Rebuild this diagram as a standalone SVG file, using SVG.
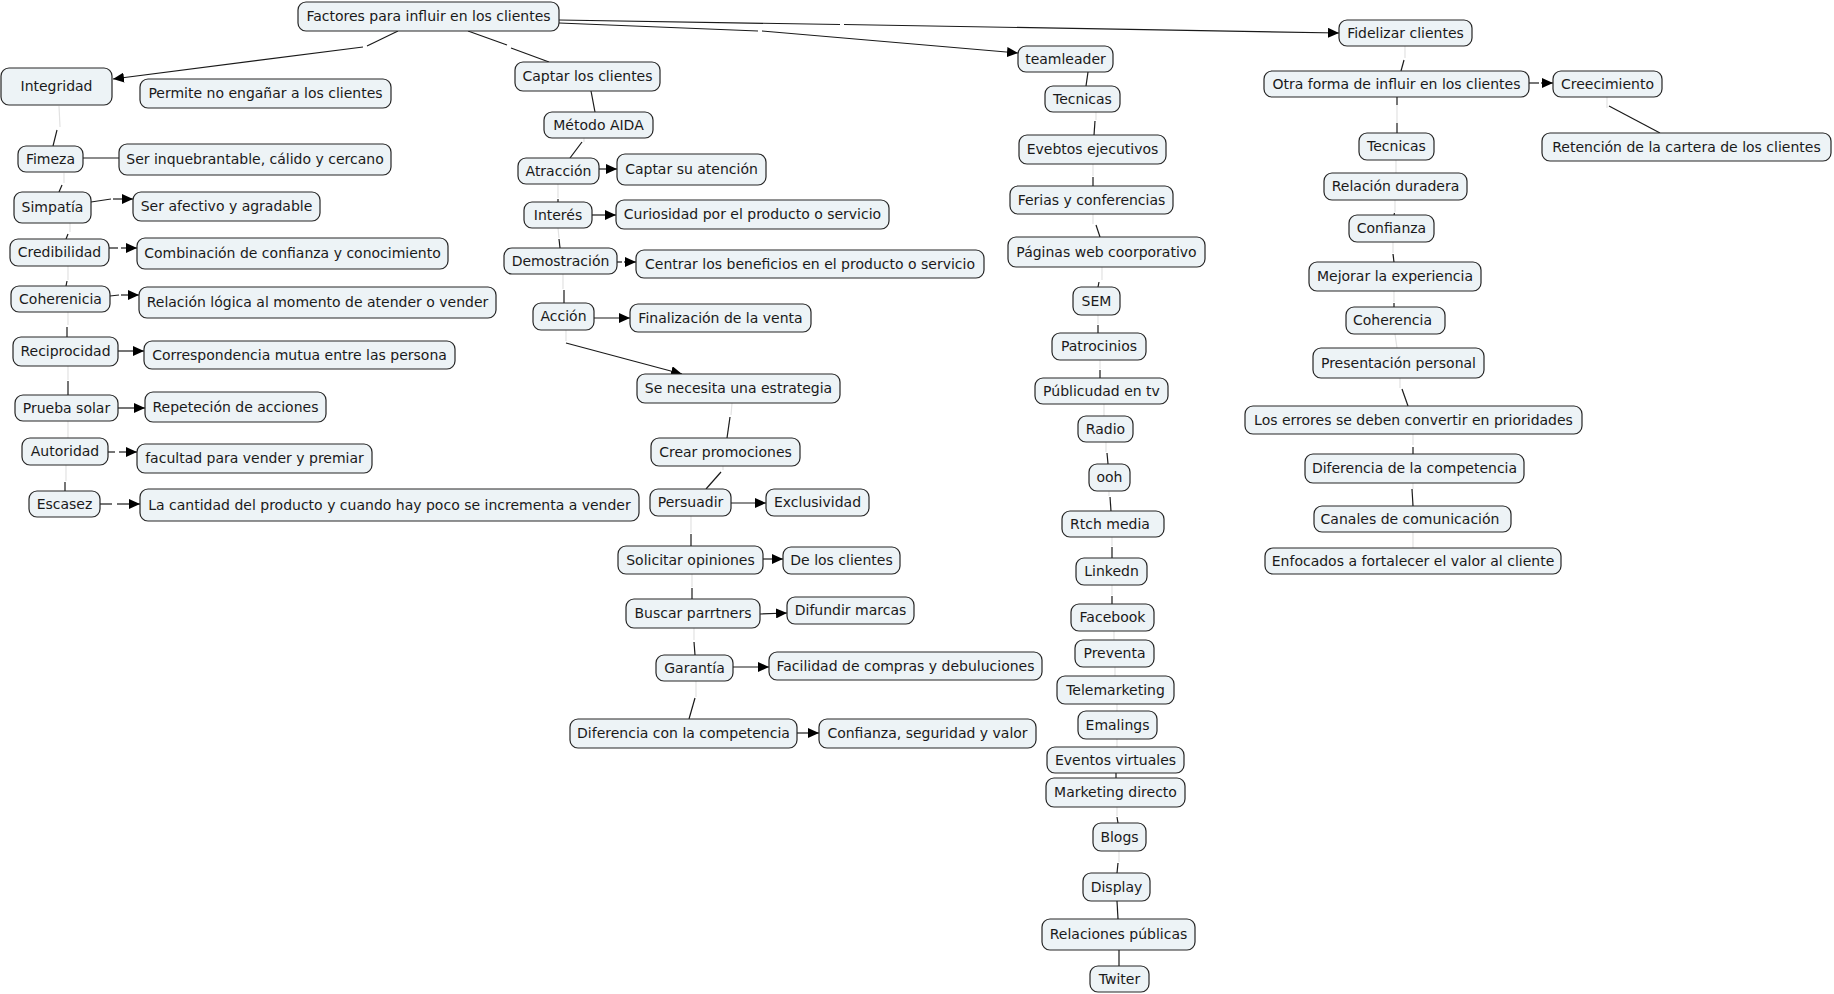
<svg xmlns="http://www.w3.org/2000/svg" width="1834" height="994" viewBox="0 0 1834 994">
<style>
.b{fill:#edf3f6;stroke:#262626;stroke-width:1.2}
text{font-family:"DejaVu Sans",Verdana,sans-serif;font-size:14px;fill:#1a1a1a;text-anchor:middle}
.d{stroke:#1a1a1a;stroke-width:1.2;fill:none}
.f{stroke:#e2e2e2;stroke-width:1.2;fill:none}
.a{marker-end:url(#ar)}
</style>
<defs>
<marker id="ar" markerUnits="userSpaceOnUse" markerWidth="12" markerHeight="10" refX="11" refY="5" orient="auto"><path d="M0,0 L11,5 L0,10 z" fill="#000"/></marker>
</defs>
<rect width="1834" height="994" fill="#fff"/>
<g id="connectors">
<path class="d" d="M398,31 L367,46"/><path class="d a" d="M363,47 L113,79"/>
<path class="f" d="M59,106 L60,127"/><path class="d" d="M57,130 L53,146"/>
<path class="d" d="M83,158 L119,158"/>
<path class="f" d="M64,173 L64,183"/><path class="d" d="M62,185 L59,192"/>
<path class="d" d="M91,202 L111,199"/><path class="d a" d="M113,199 L133,199"/>
<path class="f" d="M70,223 L70,232"/><path class="d" d="M68,234 L66,239"/>
<path class="d" d="M109,248 L118,248"/><path class="d a" d="M121,248 L137,248"/>
<path class="f" d="M68,266 L68,280"/><path class="d" d="M67,281 L66,286"/>
<path class="d" d="M110,296 L119,295"/><path class="d a" d="M121,295 L139,295"/>
<path class="f" d="M68,312 L68,325"/><path class="d" d="M67,327 L67,337"/>
<path class="d a" d="M118,351 L144,351"/>
<path class="f" d="M68,366 L68,380"/><path class="d" d="M68,381 L68,395"/>
<path class="d a" d="M118,408 L145,408"/>
<path class="f" d="M68,421 L68,438"/>
<path class="d" d="M108,452 L115,452"/><path class="d a" d="M119,452 L137,452"/>
<path class="f" d="M66,465 L66,481"/><path class="d" d="M65,482 L65,491"/>
<path class="d" d="M100,504 L112,504"/><path class="d a" d="M117,504 L140,504"/>
<path class="d" d="M468,31 L507,45"/><path class="d" d="M511,48 L549,62"/>
<path class="d" d="M591,91 L595,112"/>
<path class="f" d="M584,138 L584,142"/><path class="d" d="M582,142 L570,158"/>
<path class="d a" d="M599,169 L617,169"/>
<path class="f" d="M558,184 L558,198"/><path class="d" d="M558,199 L558,202"/>
<path class="d a" d="M592,215 L616,215"/>
<path class="f" d="M558,228 L559,238"/><path class="d" d="M559,239 L560,248"/>
<path class="d" d="M617,262 L622,262"/><path class="d a" d="M624,262 L636,262"/>
<path class="f" d="M563,274 L563,289"/><path class="d" d="M564,290 L564,303"/>
<path class="d a" d="M594,318 L630,318"/>
<path class="f" d="M566,330 L566,341"/><path class="d a" d="M566,343 L682,374"/>
<path class="f" d="M732,403 L731,415"/><path class="d" d="M730,417 L727,438"/>
<path class="f" d="M723,466 L723,470"/><path class="d" d="M721,472 L706,489"/>
<path class="d a" d="M731,503 L766,503"/>
<path class="f" d="M691,516 L691,533"/><path class="d" d="M691,534 L691,546"/>
<path class="d a" d="M763,559 L783,559"/>
<path class="f" d="M692,574 L692,587"/><path class="d" d="M692,588 L692,599"/>
<path class="d a" d="M760,614 L787,613"/>
<path class="f" d="M694,628 L694,640"/><path class="d" d="M694,642 L695,655"/>
<path class="d a" d="M733,667 L769,667"/>
<path class="f" d="M696,681 L696,697"/><path class="d" d="M695,698 L689,719"/>
<path class="d a" d="M797,733 L819,733"/>
<path class="d" d="M559,23 L758,31"/><path class="d a" d="M762,31 L1018,53"/>
<path class="d" d="M559,20 L840,24.5"/><path class="d a" d="M844,24.5 L1339,33"/>
<path class="d" d="M1088,72 L1086,86"/>
<path class="f" d="M1096,112 L1096,120"/><path class="d" d="M1095,121 L1094,135"/>
<path class="f" d="M1093,164 L1093,176"/><path class="d" d="M1093,177 L1093,186"/>
<path class="f" d="M1093,214 L1093,224"/><path class="d" d="M1096,225 L1100,237"/>
<path class="f" d="M1102,267 L1102,280"/><path class="d" d="M1099,282 L1098,287"/>
<path class="f" d="M1098,315 L1098,324"/><path class="d" d="M1098,325 L1098,333"/>
<path class="f" d="M1100,360 L1100,369"/><path class="d" d="M1100,370 L1100,378"/>
<path class="f" d="M1104,404 L1104,416"/>
<path class="f" d="M1106,442 L1106,452"/><path class="d" d="M1107,453 L1108,464"/>
<path class="f" d="M1109,491 L1109,496"/><path class="d" d="M1110,497 L1111,511"/>
<path class="f" d="M1112,537 L1112,546"/><path class="d" d="M1112,547 L1112,558"/>
<path class="f" d="M1112,585 L1112,595"/><path class="d" d="M1112,596 L1112,604"/>
<path class="f" d="M1114,631 L1114,640"/>
<path class="f" d="M1115,667 L1115,676"/>
<path class="f" d="M1117,704 L1117,711"/>
<path class="f" d="M1117,739 L1117,747"/>
<path class="d" d="M1116,773 L1116,778"/>
<path class="f" d="M1117,807 L1117,816"/><path class="d" d="M1117,817 L1118,823"/>
<path class="f" d="M1119,851 L1119,862"/><path class="d" d="M1118,863 L1117,873"/>
<path class="d" d="M1117,901 L1118,919"/>
<path class="d" d="M1119,950 L1119,966"/>
<path class="f" d="M1405,46 L1405,58"/><path class="d" d="M1404,60 L1401,71"/>
<path class="d" d="M1529,83 L1539,83"/><path class="d a" d="M1541,83 L1553,83"/>
<path class="d" d="M1397,97 L1397,105"/><path class="f" d="M1397,105 L1397,123"/><path class="d" d="M1397,123 L1397,133"/>
<path class="f" d="M1607,97 L1607,108"/><path class="d" d="M1609,106 L1660,133"/>
<path class="f" d="M1396,160 L1396,173"/>
<path class="f" d="M1395,200 L1395,212"/><path class="d" d="M1394.5,213 L1394,215"/>
<path class="f" d="M1393,242 L1393,253"/><path class="d" d="M1393,254 L1394,262"/>
<path class="f" d="M1394,291 L1394,302"/><path class="d" d="M1394,303 L1394,307"/>
<path class="f" d="M1395,334 L1397,348"/>
<path class="f" d="M1400,378 L1400,388"/><path class="d" d="M1402,389 L1408,406"/>
<path class="f" d="M1413,434 L1413,445"/><path class="d" d="M1413,447 L1413,454"/>
<path class="f" d="M1413,483 L1413,489"/><path class="d" d="M1412,489 L1413,506"/>
<path class="f" d="M1413,532 L1413,548"/>
</g>
<g id="n1"><rect class="b" x="298" y="2" width="261" height="29" rx="8"/><text x="428.5" y="21">Factores para influir en los clientes</text></g>
<g id="n2"><rect class="b" x="1" y="68" width="111" height="37" rx="8"/><text x="56.5" y="91">Integridad</text></g>
<g id="n3"><rect class="b" x="140" y="79" width="251" height="29" rx="8"/><text x="265.5" y="98">Permite no engañar a los clientes</text></g>
<g id="n4"><rect class="b" x="18" y="146" width="65" height="26" rx="8"/><text x="50.5" y="163.5">Fimeza</text></g>
<g id="n5"><rect class="b" x="119" y="144" width="272" height="31" rx="8"/><text x="255" y="164">Ser inquebrantable, cálido y cercano</text></g>
<g id="n6"><rect class="b" x="14" y="192" width="77" height="31" rx="8"/><text x="52.5" y="212">Simpatía</text></g>
<g id="n7"><rect class="b" x="133" y="192" width="187" height="29" rx="8"/><text x="226.5" y="211">Ser afectivo y agradable</text></g>
<g id="n8"><rect class="b" x="10" y="239" width="99" height="27" rx="8"/><text x="59.5" y="257">Credibilidad</text></g>
<g id="n9"><rect class="b" x="137" y="238" width="311" height="31" rx="8"/><text x="292.5" y="258">Combinación de confianza y conocimiento</text></g>
<g id="n10"><rect class="b" x="11" y="286" width="99" height="26" rx="8"/><text x="60.5" y="303.5">Coherenicia</text></g>
<g id="n11"><rect class="b" x="139" y="287" width="357" height="31" rx="8"/><text x="317.5" y="307">Relación lógica al momento de atender o vender</text></g>
<g id="n12"><rect class="b" x="13" y="337" width="105" height="29" rx="8"/><text x="65.5" y="356">Reciprocidad</text></g>
<g id="n13"><rect class="b" x="144" y="341" width="311" height="28" rx="8"/><text x="299.5" y="359.5">Correspondencia mutua entre las persona</text></g>
<g id="n14"><rect class="b" x="15" y="395" width="103" height="26" rx="8"/><text x="66.5" y="412.5">Prueba solar</text></g>
<g id="n15"><rect class="b" x="145" y="392" width="181" height="30" rx="8"/><text x="235.5" y="411.5">Repeteción de acciones</text></g>
<g id="n16"><rect class="b" x="22" y="438" width="86" height="27" rx="8"/><text x="65" y="456">Autoridad</text></g>
<g id="n17"><rect class="b" x="137" y="444" width="235" height="29" rx="8"/><text x="254.5" y="463">facultad para vender y premiar</text></g>
<g id="n18"><rect class="b" x="29" y="491" width="71" height="26" rx="8"/><text x="64.5" y="508.5">Escasez</text></g>
<g id="n19"><rect class="b" x="140" y="489" width="499" height="32" rx="8"/><text x="389.5" y="509.5">La cantidad del producto y cuando hay poco se incrementa a vender</text></g>
<g id="n20"><rect class="b" x="515" y="62" width="145" height="29" rx="8"/><text x="587.5" y="81">Captar los clientes</text></g>
<g id="n21"><rect class="b" x="544" y="112" width="109" height="26" rx="8"/><text x="598.5" y="129.5">Método AIDA</text></g>
<g id="n22"><rect class="b" x="518" y="158" width="81" height="26" rx="8"/><text x="558.5" y="175.5">Atracción</text></g>
<g id="n23"><rect class="b" x="617" y="154" width="149" height="31" rx="8"/><text x="691.5" y="174">Captar su atención</text></g>
<g id="n24"><rect class="b" x="524" y="202" width="68" height="26" rx="8"/><text x="558" y="219.5">Interés</text></g>
<g id="n25"><rect class="b" x="616" y="200" width="273" height="29" rx="8"/><text x="752.5" y="219">Curiosidad por el producto o servicio</text></g>
<g id="n26"><rect class="b" x="504" y="248" width="113" height="26" rx="8"/><text x="560.5" y="265.5">Demostración</text></g>
<g id="n27"><rect class="b" x="636" y="250" width="348" height="28" rx="8"/><text x="810" y="268.5">Centrar los beneficios en el producto o servicio</text></g>
<g id="n28"><rect class="b" x="533" y="303" width="61" height="27" rx="8"/><text x="563.5" y="321">Acción</text></g>
<g id="n29"><rect class="b" x="630" y="304" width="181" height="28" rx="8"/><text x="720.5" y="322.5">Finalización de la venta</text></g>
<g id="n30"><rect class="b" x="637" y="374" width="203" height="29" rx="8"/><text x="738.5" y="393">Se necesita una estrategia</text></g>
<g id="n31"><rect class="b" x="651" y="438" width="149" height="28" rx="8"/><text x="725.5" y="456.5">Crear promociones</text></g>
<g id="n32"><rect class="b" x="650" y="489" width="81" height="27" rx="8"/><text x="690.5" y="507">Persuadir</text></g>
<g id="n33"><rect class="b" x="766" y="489" width="103" height="27" rx="8"/><text x="817.5" y="507">Exclusividad</text></g>
<g id="n34"><rect class="b" x="618" y="546" width="145" height="28" rx="8"/><text x="690.5" y="564.5">Solicitar opiniones</text></g>
<g id="n35"><rect class="b" x="783" y="547" width="117" height="27" rx="8"/><text x="841.5" y="565">De los clientes</text></g>
<g id="n36"><rect class="b" x="626" y="599" width="134" height="29" rx="8"/><text x="693" y="618">Buscar parrtners</text></g>
<g id="n37"><rect class="b" x="787" y="597" width="127" height="27" rx="8"/><text x="850.5" y="615">Difundir marcas</text></g>
<g id="n38"><rect class="b" x="656" y="655" width="77" height="26" rx="8"/><text x="694.5" y="672.5">Garantía</text></g>
<g id="n39"><rect class="b" x="769" y="652" width="273" height="28" rx="8"/><text x="905.5" y="670.5">Facilidad de compras y debuluciones</text></g>
<g id="n40"><rect class="b" x="570" y="719" width="227" height="29" rx="8"/><text x="683.5" y="738">Diferencia con la competencia</text></g>
<g id="n41"><rect class="b" x="819" y="719" width="217" height="29" rx="8"/><text x="927.5" y="738">Confianza, seguridad y valor</text></g>
<g id="n42"><rect class="b" x="1018" y="46" width="95" height="26" rx="8"/><text x="1065.5" y="63.5">teamleader</text></g>
<g id="n43"><rect class="b" x="1045" y="86" width="75" height="26" rx="8"/><text x="1082.5" y="103.5">Tecnicas</text></g>
<g id="n44"><rect class="b" x="1019" y="135" width="147" height="29" rx="8"/><text x="1092.5" y="154">Evebtos ejecutivos</text></g>
<g id="n45"><rect class="b" x="1010" y="186" width="163" height="28" rx="8"/><text x="1091.5" y="204.5">Ferias y conferencias</text></g>
<g id="n46"><rect class="b" x="1008" y="237" width="197" height="30" rx="8"/><text x="1106.5" y="256.5">Páginas web coorporativo</text></g>
<g id="n47"><rect class="b" x="1073" y="287" width="47" height="28" rx="8"/><text x="1096.5" y="305.5">SEM</text></g>
<g id="n48"><rect class="b" x="1052" y="333" width="94" height="27" rx="8"/><text x="1099" y="351">Patrocinios</text></g>
<g id="n49"><rect class="b" x="1035" y="378" width="133" height="26" rx="8"/><text x="1101.5" y="395.5">Públicudad en tv</text></g>
<g id="n50"><rect class="b" x="1078" y="416" width="55" height="26" rx="8"/><text x="1105.5" y="433.5">Radio</text></g>
<g id="n51"><rect class="b" x="1089" y="464" width="41" height="27" rx="8"/><text x="1109.5" y="482">ooh</text></g>
<g id="n52"><rect class="b" x="1062" y="511" width="102" height="26" rx="8"/><text x="1110" y="528.5">Rtch media</text></g>
<g id="n53"><rect class="b" x="1076" y="558" width="71" height="27" rx="8"/><text x="1111.5" y="576">Linkedn</text></g>
<g id="n54"><rect class="b" x="1071" y="604" width="83" height="27" rx="8"/><text x="1112.5" y="622">Facebook</text></g>
<g id="n55"><rect class="b" x="1075" y="640" width="79" height="27" rx="8"/><text x="1114.5" y="658">Preventa</text></g>
<g id="n56"><rect class="b" x="1057" y="676" width="117" height="28" rx="8"/><text x="1115.5" y="694.5">Telemarketing</text></g>
<g id="n57"><rect class="b" x="1078" y="711" width="79" height="28" rx="8"/><text x="1117.5" y="729.5">Emalings</text></g>
<g id="n58"><rect class="b" x="1047" y="747" width="137" height="26" rx="8"/><text x="1115.5" y="764.5">Eventos virtuales</text></g>
<g id="n59"><rect class="b" x="1046" y="778" width="139" height="29" rx="8"/><text x="1115.5" y="797">Marketing directo</text></g>
<g id="n60"><rect class="b" x="1093" y="823" width="53" height="28" rx="8"/><text x="1119.5" y="841.5">Blogs</text></g>
<g id="n61"><rect class="b" x="1083" y="873" width="67" height="28" rx="8"/><text x="1116.5" y="891.5">Display</text></g>
<g id="n62"><rect class="b" x="1042" y="919" width="153" height="31" rx="8"/><text x="1118.5" y="939">Relaciones públicas</text></g>
<g id="n63"><rect class="b" x="1090" y="966" width="59" height="26" rx="8"/><text x="1119.5" y="983.5">Twiter</text></g>
<g id="n64"><rect class="b" x="1339" y="20" width="133" height="26" rx="8"/><text x="1405.5" y="37.5">Fidelizar clientes</text></g>
<g id="n65"><rect class="b" x="1264" y="71" width="265" height="26" rx="8"/><text x="1396.5" y="88.5">Otra forma de influir en los clientes</text></g>
<g id="n66"><rect class="b" x="1553" y="71" width="109" height="26" rx="8"/><text x="1607.5" y="88.5">Creecimiento</text></g>
<g id="n67"><rect class="b" x="1359" y="133" width="75" height="27" rx="8"/><text x="1396.5" y="151">Tecnicas</text></g>
<g id="n68"><rect class="b" x="1542" y="133" width="289" height="28" rx="8"/><text x="1686.5" y="151.5">Retención de la cartera de los clientes</text></g>
<g id="n69"><rect class="b" x="1324" y="173" width="143" height="27" rx="8"/><text x="1395.5" y="191">Relación duradera</text></g>
<g id="n70"><rect class="b" x="1349" y="215" width="85" height="27" rx="8"/><text x="1391.5" y="233">Confianza</text></g>
<g id="n71"><rect class="b" x="1309" y="262" width="172" height="29" rx="8"/><text x="1395" y="281">Mejorar la experiencia</text></g>
<g id="n72"><rect class="b" x="1346" y="307" width="99" height="27" rx="8"/><text x="1392.5" y="325">Coherencia</text></g>
<g id="n73"><rect class="b" x="1313" y="348" width="171" height="30" rx="8"/><text x="1398.5" y="367.5">Presentación personal</text></g>
<g id="n74"><rect class="b" x="1245" y="406" width="337" height="28" rx="8"/><text x="1413.5" y="424.5">Los errores se deben convertir en prioridades</text></g>
<g id="n75"><rect class="b" x="1305" y="454" width="219" height="29" rx="8"/><text x="1414.5" y="473">Diferencia de la competencia</text></g>
<g id="n76"><rect class="b" x="1314" y="506" width="197" height="26" rx="8"/><text x="1410" y="523.5">Canales de comunicación</text></g>
<g id="n77"><rect class="b" x="1265" y="548" width="296" height="26" rx="8"/><text x="1413" y="565.5">Enfocados a fortalecer el valor al cliente</text></g>
</svg>
